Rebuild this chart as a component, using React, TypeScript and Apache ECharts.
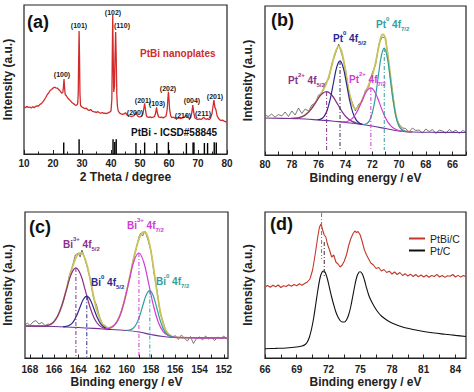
import React, { useEffect, useRef } from 'react';
import * as echarts from 'echarts';

const FONT = '"Liberation Sans", Arial, Helvetica, sans-serif';

// ---------- (a) XRD ----------
const xrdPattern: number[][] = [
  [10,47.3],[10.5,46.2],[11,47.8],[11.5,46.5],[12,47.0],[12.5,45.9],[13,47.4],[13.5,46.3],[14,47.6],[14.5,48.2],[15,48.0],[15.5,49.6],[16,50.4],[16.5,52.1],[17,54.2],[17.5,56.5],[18,59.3],[18.5,61.0],[19,63.5],[19.5,64.6],[20,65.9],[20.5,66.8],[21,66.2],[21.5,65.8],[22,64.5],[22.5,62.9],[23,60.8],[23.4,61.5],[23.6,67],[23.8,75],[24.0,66],[24.2,59.5],[24.6,58.3],[25,56.2],[25.5,54.8],[26,53.4],[26.5,51.6],[27,50.5],[27.5,49.2],[28,48.6],[28.5,50.0],[28.7,60],[28.85,95],[29.0,123],[29.15,95],[29.3,60],[29.5,48.5],[30,47.0],[30.5,46.1],[31,45.3],[31.5,45.8],[32,44.2],[32.5,43.6],[33,44.5],[33.5,42.9],[34,42.4],[34.5,42.0],[35,41.6],[35.5,42.3],[36,41.2],[36.5,40.8],[37,41.5],[37.5,40.6],[38,40.9],[38.5,40.4],[39,41.2],[39.5,41.8],[40,43],[40.3,55],[40.45,100],[40.6,139],[40.75,100],[40.95,62],[41.2,68],[41.4,100],[41.6,122],[41.8,96],[42.0,60],[42.2,48],[42.5,43],[43,40.9],[43.5,40.2],[44,39.6],[44.5,40.1],[45,41.3],[45.5,39.2],[46,38.5],[46.5,38.0],[47,37.5],[47.5,37.9],[48,38.4],[48.6,41.7],[49.1,38.2],[49.5,37.4],[50,37.2],[50.5,37.8],[51,40],[51.3,45],[51.6,50.7],[51.9,44],[52.2,38.5],[52.5,37.1],[53,36.6],[53.5,37.2],[54,36.4],[54.5,36.9],[55,37.5],[55.4,41],[55.7,46.7],[56.0,41],[56.4,37.2],[57,36.5],[57.5,36.8],[58,36.2],[58.5,36.9],[59,38],[59.4,45],[59.6,55],[59.8,62.3],[60.0,55],[60.2,45],[60.6,37.8],[61,36.3],[61.5,36.8],[62,35.9],[62.5,36.4],[63,35.6],[63.5,36.1],[64,35.5],[64.5,35.9],[65,36.4],[65.5,37.5],[66,39],[66.4,37],[67,35.6],[67.5,36.5],[67.9,42],[68.2,49],[68.5,42],[68.9,36.3],[69.5,35.0],[70,34.7],[70.5,35.2],[71,34.5],[71.5,35.4],[72,36.7],[72.5,35.1],[73,34.6],[73.3,35.5],[73.7,34.4],[74.2,35.2],[74.8,40],[75.2,48],[75.5,54],[75.8,47],[76.2,44],[76.6,38],[77,36],[77.5,34.2],[78,33.5],[78.5,33.9],[79,32.8],[79.5,32.4],[80,31.7],
];
const icsdPositions = [23.7, 29.0, 40.7, 41.3, 41.8, 48.6, 51.6, 55.8, 59.8, 66.0, 68.3, 68.6, 72.2, 73.3, 75.6, 76.3];
const icsdHeights = [11.5, 14.7, 14.7, 12, 14.7, 11, 11.5, 11, 11.8, 11, 11.5, 11.5, 11, 11, 11.8, 11.5];
const hklLabels = ['(100)', '(101)', '(102)', '(110)', '(200)', '(201)', '(103)', '(202)', '(210)', '(004)', '(211)', '(201)'];
const xrdTicks = [10, 20, 30, 40, 50, 60, 70, 80];

// ---------- (b) Pt 4f ----------
const ptRaw: number[][] = [[80,40],[79.75,38.5],[79.5,41],[79.25,37.8],[79,40.5],[78.75,39],[78.5,43],[78.25,38.5],[78,44],[77.75,40],[77.5,47],[77.25,41.5],[77,46],[76.75,44],[76.5,50],[76.25,52],[76,60],[75.75,62],[75.5,72],[75.25,76],[75,92],[74.75,101],[74.5,111],[74.25,100],[74,86],[73.75,63],[73.5,53],[73.25,44],[73,51],[72.75,53],[72.5,65],[72.25,68],[72,82],[71.75,90],[71.5,111],[71.25,118],[71,117],[70.75,89],[70.5,65],[70.25,39],[70,31],[69.75,27],[69.5,26.5],[69.25,23],[69,27],[68.75,24.5],[68.5,25],[68.25,22],[68,26],[67.75,23.5],[67.5,25.5],[67.25,21.5],[67,25],[66.75,24],[66.5,21.8],[66.25,25.5],[66,23],[65.75,24.8],[65.5,21.5],[65.25,24.5],[65,23]];
const ptEnvelope: number[][] = [[78,36.7],[77.5,37.2],[77,40.1],[76.5,47.0],[76,57.4],[75.75,63.0],[75.5,69.2],[75.25,77.9],[75,90.1],[74.75,102.8],[74.5,108.7],[74.25,102.1],[74,84.5],[73.75,64.7],[73.5,51.0],[73.25,46.1],[73,48.6],[72.75,55.1],[72.5,63.0],[72.25,70.5],[72,79.1],[71.75,92.1],[71.5,108.9],[71.25,120.5],[71.1,119.6],[71,115.0],[70.75,91.7],[70.5,62.8],[70.25,40.8],[70,29.3],[69.75,25.0],[69.5,23.7],[69,23]];
const ptBackground: number[][] = [[80,37],[78,36.5],[77,36],[76,35],[75,34],[74,32.5],[73,31],[72,29],[71,26.5],[70,24],[69,23],[67,22.7],[65,22.5]];
const pt0_52: number[][] = [[72.72,30.7],[72.96,32.0],[73.2,35.1],[73.44,42.1],[73.68,54.5],[73.92,71.6],[74.16,87.3],[74.4,94.1],[74.64,88.1],[74.88,73.0],[75.12,56.6],[75.36,44.8],[75.6,38.4],[75.84,35.9],[76.08,35.3]];
const pt2_52: number[][] = [[72.74,30.6],[73.12,31.7],[73.5,33.6],[73.88,37.2],[74.26,43.6],[74.64,52.1],[75.02,60.0],[75.4,63.4],[75.78,60.8],[76.16,53.8],[76.54,46.2],[76.92,40.8],[77.3,38.0],[77.68,36.8],[78.06,36.6]];
const pt2_72: number[][] = [[69.0,23.0],[69.86,24.1],[70.18,25.2],[70.5,27.7],[70.82,32.6],[71.14,40.9],[71.46,52.1],[71.78,62.5],[72.1,67.2],[72.42,63.8],[72.74,54.9],[73.06,45.1],[73.38,38.1],[73.7,34.5],[74.02,33.2],[74.34,33.2]];
const pt0_72: number[][] = [[69.56,23.9],[69.78,25.3],[70.0,29],[70.22,38.2],[70.44,54.6],[70.66,77.1],[70.88,97.8],[71.1,106.8],[71.32,98.9],[71.54,79.3],[71.76,57.9],[71.98,42.6],[72.2,34.4],[72.42,31.3],[72.64,30.6]];
const ptLineX = [75.4, 74.4, 72.1, 71.1];
const ptLineTop = [63, 94, 67, 107];
const ptTickLabels = [66, 68, 70, 72, 74, 76, 78, 80];
const ptTicks = [65, 66, 67, 68, 69, 70, 71, 72, 73, 74, 75, 76, 77, 78, 79, 80];

// ---------- (c) Bi 4f ----------
const biRaw: number[][] = [[168.4,29],[168.2,31],[168,28.5],[167.75,32],[167.5,33.5],[167.25,30],[167,31.5],[166.75,28.5],[166.5,30],[166.25,29],[166,33],[165.75,37.5],[165.5,44],[165.25,52],[165,64],[164.75,78],[164.5,87],[164.25,99],[164.0,101],[163.85,97],[163.7,104],[163.5,97],[163.25,86],[163,74],[162.75,56],[162.5,49],[162.25,37],[162,30],[161.75,28],[161.5,25],[161.25,27],[161,29],[160.75,33],[160.5,41],[160.25,51],[160,64],[159.75,76],[159.5,93],[159.25,104],[159,117],[158.85,121],[158.7,118],[158.5,123],[158.25,114],[158,103],[157.75,80],[157.5,63],[157.25,41],[157,32],[156.75,22],[156.5,20],[156.25,16.5],[156,18.5],[155.75,14.5],[155.5,19],[155.25,16],[155,13],[154.75,17.5],[154.5,10.5],[154.25,15.5],[154,17],[153.75,14],[153.5,18],[153.25,15],[153,16.5],[152.75,13.5],[152.5,17],[152.25,15.5],[152,18],[151.75,14.8],[151.65,16]];
const biEnvelope: number[][] = [[168.4,28],[167,27.85],[166.5,28.6],[166,32.4],[165.5,43.5],[165,63.9],[164.75,75.7],[164.5,86.4],[164.25,94.9],[164,100.1],[163.75,101.1],[163.5,96.9],[163.25,87.4],[163,73.4],[162.75,58.1],[162.5,44.8],[162,29.45],[161.5,26.1],[161,29.15],[160.5,40.5],[160,63.3],[159.75,77.5],[159.5,91.9],[159.25,104.8],[159,114.9],[158.75,121.1],[158.5,122.0],[158.25,115.9],[158,102.1],[157.75,82.6],[157.5,61.4],[157.25,43.2],[157,30.3],[156.75,22.95],[156.5,19.2],[156,16.7],[155,16.35],[151.65,16]];
const biBackground: number[][] = [[168.4,28],[166,27.5],[164,26.5],[162,25],[160,23.5],[159,22],[158,19.5],[157,17.5],[156,16.5],[154,16.2],[151.65,16]];
const bi3_52: number[][] = [[161.54,24.9],[161.92,26.0],[162.3,28.9],[162.68,35.6],[163.06,47.8],[163.44,64.3],[163.82,79.7],[164.2,86.1],[164.58,80.1],[164.96,65.2],[165.34,49.2],[165.72,37.5],[166.1,31.2],[166.48,28.7],[166.86,27.9],[168.4,28]];
const bi0_52: number[][] = [[161.34,24.6],[161.62,25.3],[161.9,26.9],[162.18,30.5],[162.46,37.1],[162.74,46.0],[163.02,54.3],[163.3,57.8],[163.58,54.7],[163.86,46.8],[164.14,38.3],[164.42,32.1],[164.7,28.9],[164.98,27.6],[165.26,27.3]];
const bi3_72: number[][] = [[151.65,16],[153,16.1],[155,16.35],[156.2,17.05],[156.6,18.6],[157.0,22.4],[157.4,31.7],[157.8,48.3],[158.2,70.7],[158.6,91.7],[159.0,101],[159.4,93.3],[159.8,73.9],[160.2,52.85],[160.6,37.35],[161.0,29.15],[161.4,26.05],[161.8,25.2]];
const bi0_72: number[][] = [[156.14,16.84],[156.42,17.72],[156.7,19.9],[156.98,24.88],[157.26,34.12],[157.54,46.68],[157.82,58.24],[158.1,63.45],[158.38,59.55],[158.66,49.25],[158.94,37.95],[159.22,29.73],[159.5,25.45],[159.78,23.97],[160.06,23.75]];
const biLineX = [164.2, 163.3, 159.0, 158.1];
const biLineTop = [86, 57.8, 101, 63.5];
const biTickLabels = [152, 154, 156, 158, 160, 162, 164, 166, 168];
const biTicks = [152, 153, 154, 155, 156, 157, 158, 159, 160, 161, 162, 163, 164, 165, 166, 167, 168];

// ---------- (d) PtBi/C vs Pt/C ----------
const ptbiC: number[][] = [[66,67],[66.25,68.5],[66.5,66.8],[66.75,68.8],[67,67.2],[67.25,69],[67.5,66.5],[67.75,68.2],[68,67.5],[68.25,69.3],[68.5,67.8],[68.75,69.5],[69,68.3],[69.25,70.2],[69.5,68.8],[69.75,70.5],[70,72],[70.25,75],[70.5,84],[70.75,100],[71.0,118],[71.15,127],[71.3,130],[71.45,124],[71.6,119],[71.75,117],[71.9,110],[72.1,104],[72.3,97],[72.5,99],[72.7,92],[72.9,90],[73.1,87],[73.3,89],[73.5,93],[73.7,99],[73.9,108],[74.1,115],[74.3,120],[74.5,123],[74.65,121.5],[74.8,122.5],[75.0,119],[75.2,112],[75.4,104],[75.6,99],[75.8,95],[76.0,91],[76.25,89],[76.5,85.5],[76.75,86.5],[77.0,83],[77.25,84.5],[77.5,81.5],[77.75,82.8],[78,80],[78.25,82],[78.5,79.5],[78.75,81.5],[79,78.5],[79.25,80.3],[79.5,78],[79.75,79.8],[80,77.5],[80.25,79.5],[80.5,77.2],[80.75,79],[81,77],[81.25,78.8],[81.5,76.8],[81.75,78.5],[82,77.5],[82.25,79.6],[82.5,77],[82.75,78.5],[83,76.6],[83.25,78.2],[83.5,77.8],[83.75,79.5],[84,77],[84.25,78.6],[84.5,76.9],[84.75,78.4],[85,77.2]];
const ptC: number[][] = [[66,5.3],[67,5.6],[68,6],[69,7],[69.5,8],[69.8,9.5],[70,12],[70.2,17],[70.4,25],[70.6,36],[70.8,50],[71,64],[71.2,76],[71.4,82],[71.55,83],[71.7,81.5],[71.9,75],[72.1,66],[72.3,57],[72.5,49],[72.7,42],[72.9,37],[73.1,33.5],[73.3,32],[73.5,32],[73.7,34],[73.9,39],[74.1,47],[74.3,58],[74.5,69],[74.7,78],[74.9,82],[75,82.3],[75.2,80],[75.4,74],[75.6,66],[75.8,59],[76,54],[76.3,48],[76.6,43],[77,38],[77.5,34],[78,31],[79,27],[80,24.5],[81,22.5],[82,21],[83,19.8],[84,18.6],[85,17.5]];
const dLine1: number[][] = [[71.35,141],[71.35,95]];
const dLine2: number[][] = [[71.6,112],[71.6,78]];
const dTickLabels = [66, 69, 72, 75, 78, 81, 84];
const dTicks = [66, 67.5, 69, 70.5, 72, 73.5, 75, 76.5, 78, 79.5, 81, 82.5, 84];

// colours
const C_RED = '#d12b2b';
const C_PURPLE = '#8a2f8a';
const C_NAVY = '#2a2a8e';
const C_MAGENTA = '#d23cd2';
const C_TEAL = '#2f9e9e';
const C_ENV = '#c9c35a';
const C_RAW = '#555555';
const C_BG = '#6c3596';
const C_AX = '#222';

function xAxis(grid: number, name: string, extra: any, margin: number, gap: number) {
  return {
    type: 'value', gridIndex: grid, name, nameLocation: 'middle', nameGap: gap,
    nameTextStyle: { fontFamily: FONT, fontWeight: 'bold', fontSize: 12, color: C_AX },
    axisLine: { show: true, onZero: false, lineStyle: { color: C_AX, width: 1.2 } },
    axisTick: { show: true, inside: true, length: 4, lineStyle: { color: C_AX, width: 1 } },
    axisLabel: { fontFamily: FONT, fontWeight: 'bold', fontSize: 10, color: C_AX, margin },
    splitLine: { show: false },
    ...extra,
  };
}
function yAxis(grid: number, min: number, max: number, gap: number) {
  return {
    type: 'value', gridIndex: grid, min, max,
    name: 'Intensity (a.u.)', nameLocation: 'middle', nameGap: gap,
    nameTextStyle: { fontFamily: FONT, fontWeight: 'bold', fontSize: 12, color: C_AX },
    axisLine: { show: false }, axisTick: { show: false }, axisLabel: { show: false }, splitLine: { show: false },
  };
}
function line(idx: number, data: number[][], color: string, width: number, smooth: number | boolean = false, extra: any = {}) {
  return {
    type: 'line', xAxisIndex: idx, yAxisIndex: idx, data, symbol: 'none', smooth,
    lineStyle: { color, width }, itemStyle: { color }, silent: true, ...extra,
  };
}
function dash(idx: number, x: number, top: number, bottom: number, color: string) {
  return line(idx, [[x, top], [x, bottom]], color, 1, false, { lineStyle: { color, width: 1, type: [4, 2, 1, 2] }, z: 5 });
}
function txt(x: number, y: number, text: string, size: number, color: string, align = 'left', weight = 'bold') {
  return { type: 'text', x, y, style: { text, fill: color, fontSize: size, fontWeight: weight, fontFamily: FONT, align, verticalAlign: 'middle' }, z: 50 };
}
function xpsLabel(x: number, y: number, el: string, ox: string, sub: string, color: string) {
  const base = { fontFamily: FONT, fontWeight: 'bold', fill: color };
  return {
    type: 'text', x, y, z: 50,
    style: {
      text: `{m|${el}}{s|${ox}}{m| 4f}{b|${sub}}`, align: 'left', verticalAlign: 'middle',
      rich: {
        m: { ...base, fontSize: 10, lineHeight: 16 },
        s: { ...base, fontSize: 6, lineHeight: 7, verticalAlign: 'top' },
        b: { ...base, fontSize: 6, lineHeight: 7, verticalAlign: 'bottom' },
      },
    },
  };
}

const hklLayout = [[62,74],[79,25],[113,12],[122,25],[135,112],[143,100],[157,103],[168,88],[183,115],[192,100],[203,113],[215,96]];

function buildOption() {
  const gridBase = { show: true, borderColor: C_AX, borderWidth: 1.2, backgroundColor: 'transparent' };
  const series: any[] = [
    // (a)
    line(0, xrdPattern, C_RED, 1.3, false, { z: 3 }),
    { type: 'bar', xAxisIndex: 0, yAxisIndex: 0, data: icsdPositions.map((x, i) => [x, icsdHeights[i]]), barWidth: 1.4, itemStyle: { color: '#000' }, silent: true },
    // (b)
    line(1, ptRaw, C_RAW, 0.8, false, { z: 2 }),
    line(1, ptEnvelope, C_ENV, 1.8, 0.3, { z: 3 }),
    line(1, ptBackground, C_BG, 1.2, 0.4, { z: 4 }),
    line(1, pt2_52, C_PURPLE, 1.2, 0.4, { z: 4 }),
    line(1, pt0_52, C_NAVY, 1.2, 0.4, { z: 4 }),
    line(1, pt2_72, C_MAGENTA, 1.2, 0.4, { z: 4 }),
    line(1, pt0_72, C_TEAL, 1.2, 0.4, { z: 4 }),
    dash(1, ptLineX[0], ptLineTop[0], 5, C_PURPLE),
    dash(1, ptLineX[1], ptLineTop[1], 5, '#333355'),
    dash(1, ptLineX[2], ptLineTop[2], 5, C_MAGENTA),
    dash(1, ptLineX[3], ptLineTop[3], 5, C_TEAL),
    // (c)
    line(2, biRaw, C_RAW, 0.8, false, { z: 2 }),
    line(2, biEnvelope, C_ENV, 1.8, 0.3, { z: 3 }),
    line(2, biBackground, C_BG, 1.2, 0.4, { z: 4 }),
    line(2, bi3_52, C_PURPLE, 1.2, 0.4, { z: 4 }),
    line(2, bi0_52, C_NAVY, 1.2, 0.4, { z: 4 }),
    line(2, bi3_72, C_MAGENTA, 1.2, 0.4, { z: 4 }),
    line(2, bi0_72, C_TEAL, 1.2, 0.4, { z: 4 }),
    dash(2, biLineX[0], biLineTop[0], -3, C_PURPLE),
    dash(2, biLineX[1], biLineTop[1], -3, C_NAVY),
    dash(2, biLineX[2], biLineTop[2], -3, C_MAGENTA),
    dash(2, biLineX[3], biLineTop[3], -3, C_TEAL),
    // (d)
    { ...line(3, ptbiC, '#c0392b', 1.1, false, { z: 3 }), name: 'PtBi/C' },
    { ...line(3, ptC, '#111', 1.1, 0.3, { z: 3 }), name: 'Pt/C' },
    dash(3, dLine1[0][0], dLine1[0][1], dLine1[1][1], '#c05555'),
    dash(3, dLine2[0][0], dLine2[0][1], dLine2[1][1], '#333'),
  ];

  const graphic: any[] = [
    txt(27, 22, '(a)', 18, '#111'),
    txt(140, 53, 'PtBi nanoplates', 10, C_RED),
    txt(131, 132, 'PtBi - ICSD#58845', 10, '#111'),
    ...hklLabels.map((t, i) => txt(hklLayout[i][0], hklLayout[i][1], t, 7, '#1a1a1a', 'center')),
    txt(271, 20, '(b)', 18, '#111'),
    xpsLabel(376, 24, 'Pt', '0', '7/2', C_TEAL),
    xpsLabel(333, 38, 'Pt', '0', '5/2', C_NAVY),
    xpsLabel(288, 80, 'Pt', '2+', '5/2', C_PURPLE),
    xpsLabel(349, 79, 'Pt', '2+', '7/2', C_MAGENTA),
    txt(29, 227, '(c)', 18, '#111'),
    xpsLabel(63, 244, 'Bi', '3+', '5/2', C_PURPLE),
    xpsLabel(91, 282, 'Bi', '0', '5/2', C_NAVY),
    xpsLabel(127, 225, 'Bi', '3+', '7/2', C_MAGENTA),
    xpsLabel(156, 281, 'Bi', '0', '7/2', C_TEAL),
    txt(270, 224, '(d)', 18, '#111'),
  ];

  return {
    animation: false,
    backgroundColor: '#fff',
    grid: [
      { ...gridBase, left: 24, top: 5, width: 203, height: 149 },
      { ...gridBase, left: 265, top: 6, width: 201, height: 149 },
      { ...gridBase, left: 25, top: 212, width: 203, height: 146 },
      { ...gridBase, left: 265, top: 212, width: 201, height: 146 },
    ],
    xAxis: [
      xAxis(0, '2 Theta / degree', { min: 10, max: 80, interval: 10, minorTick: { show: true, splitNumber: 2, length: 2.5, lineStyle: { color: C_AX } }, axisLabel: { fontFamily: FONT, fontWeight: 'bold', fontSize: 10, color: C_AX, margin: 4, customValues: xrdTicks } }, 4, 17),
      xAxis(1, 'Binding energy / eV', { min: 65, max: 80, inverse: true, axisTick: { show: true, inside: true, length: 3.5, lineStyle: { color: C_AX }, customValues: ptTicks }, axisLabel: { fontFamily: FONT, fontWeight: 'bold', fontSize: 10, color: C_AX, margin: 4, customValues: ptTickLabels } }, 4, 17),
      xAxis(2, 'Binding energy / eV', { min: 151.65, max: 168.4, inverse: true, axisTick: { show: true, inside: true, length: 3.5, lineStyle: { color: C_AX }, customValues: biTicks }, axisLabel: { fontFamily: FONT, fontWeight: 'bold', fontSize: 10, color: C_AX, margin: 6, customValues: biTickLabels } }, 6, 18),
      xAxis(3, 'Binding energy / eV', { min: 66, max: 85, axisTick: { show: true, inside: true, length: 3.5, lineStyle: { color: C_AX }, customValues: dTicks }, axisLabel: { fontFamily: FONT, fontWeight: 'bold', fontSize: 10, color: C_AX, margin: 6, customValues: dTickLabels } }, 6, 18),
    ],
    yAxis: [
      yAxis(0, 0, 149, 10),
      yAxis(1, 0, 149, 11),
      yAxis(2, -4, 142, 11),
      yAxis(3, -4, 142, 11),
    ],
    legend: {
      data: ['PtBi/C', 'Pt/C'], left: 404, top: 228, orient: 'vertical', icon: 'rect',
      itemWidth: 16, itemHeight: 2, itemGap: 1,
      textStyle: { fontFamily: FONT, fontSize: 10.5, color: '#222' },
    },
    series,
    graphic,
  };
}

export default function App() {
  const ref = useRef<HTMLDivElement>(null);
  useEffect(() => {
    const chart = echarts.init(ref.current as HTMLDivElement, null, { renderer: 'svg' });
    chart.setOption(buildOption() as any);
    return () => chart.dispose();
  }, []);
  return <div ref={ref} style={{ position: 'absolute', left: 0, top: 0, width: 474, height: 392, background: '#fff' }} />;
}
